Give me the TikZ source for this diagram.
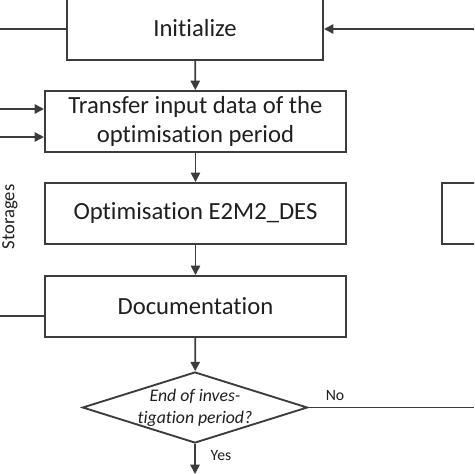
\documentclass[tikz,border=0pt]{standalone}
\usepackage{fontspec}
\setmainfont[Ligatures=NoCommon]{Carlito}
\usetikzlibrary{shapes.geometric, arrows.meta, positioning}

\definecolor{linegray}{HTML}{3C3C3C}

\begin{document}
\begin{tikzpicture}[
    x=0.75pt, y=-0.75pt,
    box/.style={rectangle, draw=linegray, line width=1.5pt, minimum height=45.75pt, minimum width=225.75pt, align=center, font=\fontsize{18.5}{22}\selectfont, text=black!88},
    decision/.style={diamond, draw=linegray, line width=1.4pt, minimum width=168.75pt, minimum height=53.25pt, aspect=3.2, inner sep=-2.5pt, align=center, font=\fontsize{13.3}{16.5}\selectfont\itshape, text=black!88},
    flow/.style={-{Triangle[length=7pt, width=7pt]}, line width=1.3pt, draw=linegray, fill=linegray},
    line/.style={line width=1.3pt, draw=linegray},
    lbl/.style={font=\fontsize{11.8}{14}\selectfont, text=black!88}
]
    \useasboundingbox (0,0) rectangle (474,474);
    \clip (0,0) rectangle (474,474);

    % Process boxes
    \node[box, minimum width=192pt, minimum height=47.25pt] (init) at (195,28.5) {Initialize};
    \node[box] (transfer) at (195.5,121.5) {Transfer input data of the\\optimisation period};
    \node[box] (optim) at (195.5,213.5) {Optimisation E2M2\_DES};
    \node[box] (docu) at (195.5,306.5) {Documentation};
    \node[decision] (endcheck) at (195,407.5) {End of inves-\\tigation period?};
    \node[box, minimum width=75pt] (side) at (492,213.5) {};

    % Side label
    \node[lbl, rotate=90, font=\fontsize{14}{16}\selectfont] (stor) at (10,217) {Storages};

    % Loose ends
    \coordinate (initin) at (474,29);
    \coordinate (initout) at (0,29);
    \coordinate (dataA) at (0,109);
    \coordinate (dataB) at (0,137);
    \coordinate (docout) at (0,316);
    \coordinate (noout) at (474,407.5);
    \coordinate (yesout) at (195,474);

    % Arrows
    \draw[flow] (init) -- (transfer);
    \draw[flow] (transfer) -- (optim);
    \draw[flow] (optim) -- (docu);
    \draw[flow] (docu) -- (endcheck);
    \draw[flow] (initin) -- (init.east |- initin);
    \draw[line] (init.west |- initout) -- (initout);
    \draw[flow] (dataA) -- (transfer.west |- dataA);
    \draw[flow] (dataB) -- (transfer.west |- dataB);
    \draw[line] (docu.west |- docout) -- (docout);
    \draw[line] (endcheck.east) -- (noout);
    \draw[flow] (endcheck.south) -- (yesout);

    % Labels
    \node[lbl] (nolbl) at (335,396) {No};
    \node[lbl] (yeslbl) at (221,456) {Yes};
\end{tikzpicture}
\end{document}
